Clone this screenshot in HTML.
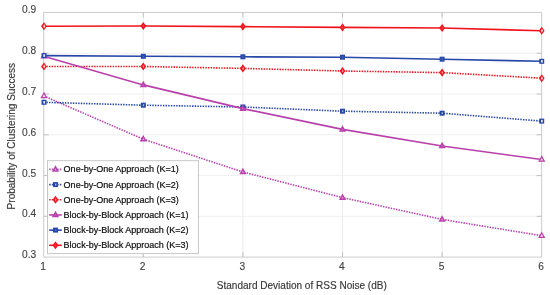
<!DOCTYPE html>
<html><head><meta charset="utf-8"><title>Probability of Clustering Success</title>
<style>html,body{margin:0;padding:0;background:#fff}svg{display:block}text{font-family:"Liberation Sans",Arial,sans-serif}</style></head><body>
<svg width="550" height="295" viewBox="0 0 550 295">
<rect width="550" height="295" fill="#fff"/>
<g stroke-width="0.9" fill="none">
<line x1="143.3" y1="12.5" x2="143.3" y2="257.1" stroke="#eaeaea"/>
<line x1="242.9" y1="12.5" x2="242.9" y2="257.1" stroke="#eaeaea"/>
<line x1="342.5" y1="12.5" x2="342.5" y2="257.1" stroke="#eaeaea"/>
<line x1="442.1" y1="12.5" x2="442.1" y2="257.1" stroke="#eaeaea"/>
<line x1="43.7" y1="53.27" x2="541.6" y2="53.27" stroke="#eeeeee"/>
<line x1="43.7" y1="94.03" x2="541.6" y2="94.03" stroke="#eeeeee"/>
<line x1="43.7" y1="134.80" x2="541.6" y2="134.80" stroke="#eeeeee"/>
<line x1="43.7" y1="175.57" x2="541.6" y2="175.57" stroke="#eeeeee"/>
<line x1="43.7" y1="216.33" x2="541.6" y2="216.33" stroke="#eeeeee"/>
</g>
<rect x="43.7" y="12.5" width="497.90000000000003" height="244.60000000000002" fill="none" stroke="#d0d0d0" stroke-width="1.1"/>
<g stroke="#b4b4b4" stroke-width="0.8">
<line x1="143.3" y1="257.1" x2="143.3" y2="252.10000000000002"/><line x1="143.3" y1="12.5" x2="143.3" y2="17.5"/>
<line x1="242.9" y1="257.1" x2="242.9" y2="252.10000000000002"/><line x1="242.9" y1="12.5" x2="242.9" y2="17.5"/>
<line x1="342.5" y1="257.1" x2="342.5" y2="252.10000000000002"/><line x1="342.5" y1="12.5" x2="342.5" y2="17.5"/>
<line x1="442.1" y1="257.1" x2="442.1" y2="252.10000000000002"/><line x1="442.1" y1="12.5" x2="442.1" y2="17.5"/>
<line x1="43.7" y1="53.27" x2="48.7" y2="53.27"/><line x1="541.6" y1="53.27" x2="536.6" y2="53.27"/>
<line x1="43.7" y1="94.03" x2="48.7" y2="94.03"/><line x1="541.6" y1="94.03" x2="536.6" y2="94.03"/>
<line x1="43.7" y1="134.80" x2="48.7" y2="134.80"/><line x1="541.6" y1="134.80" x2="536.6" y2="134.80"/>
<line x1="43.7" y1="175.57" x2="48.7" y2="175.57"/><line x1="541.6" y1="175.57" x2="536.6" y2="175.57"/>
<line x1="43.7" y1="216.33" x2="48.7" y2="216.33"/><line x1="541.6" y1="216.33" x2="536.6" y2="216.33"/>
</g>
<polyline points="43.7,95.9 143.3,139.2 242.9,172.0 342.5,197.6 442.1,219.4 541.6,235.7" fill="none" stroke="#b840ab" stroke-width="1.6" stroke-dasharray="1.45 1.2" stroke-linejoin="round"/>
<path d="M44.0 91.7L47.6 98.2L40.4 98.2Z" fill="#b840ab"/><path d="M44.0 94.3L45.5 97.0L42.5 97.0Z" fill="#f4e4f0"/>
<path d="M143.3 135.0L146.9 141.5L139.7 141.5Z" fill="#b840ab"/><path d="M143.3 138.0L144.4 140.0L142.2 140.0Z" fill="#e3a6da"/>
<path d="M242.9 167.8L246.5 174.3L239.3 174.3Z" fill="#b840ab"/><path d="M242.9 170.8L244.0 172.8L241.8 172.8Z" fill="#e3a6da"/>
<path d="M342.5 193.4L346.1 199.9L338.9 199.9Z" fill="#b840ab"/><path d="M342.5 196.4L343.6 198.4L341.4 198.4Z" fill="#e3a6da"/>
<path d="M442.1 215.2L445.7 221.7L438.5 221.7Z" fill="#b840ab"/><path d="M442.1 218.2L443.2 220.2L441.0 220.2Z" fill="#e3a6da"/>
<path d="M541.7 231.5L545.3 238.0L538.1 238.0Z" fill="#b840ab"/><path d="M541.7 234.1L543.2 236.8L540.2 236.8Z" fill="#f4e4f0"/>
<polyline points="43.7,102.3 143.3,105.2 242.9,107.0 342.5,111.2 442.1,113.2 541.6,121.1" fill="none" stroke="#2848a8" stroke-width="1.6" stroke-dasharray="1.45 1.2" stroke-linejoin="round"/>
<rect x="41.5" y="99.8" width="5" height="5" fill="#2848a8"/><rect x="43.32" y="101.08" width="1.76" height="2.43" fill="#e6eaf6"/>
<rect x="140.8" y="102.7" width="5" height="5" fill="#2848a8"/><rect x="142.85" y="104.30" width="1.30" height="1.80" fill="#aebbe2"/>
<rect x="240.4" y="104.5" width="5" height="5" fill="#2848a8"/><rect x="242.45" y="106.10" width="1.30" height="1.80" fill="#aebbe2"/>
<rect x="340.0" y="108.7" width="5" height="5" fill="#2848a8"/><rect x="342.05" y="110.30" width="1.30" height="1.80" fill="#aebbe2"/>
<rect x="439.6" y="110.7" width="5" height="5" fill="#2848a8"/><rect x="441.65" y="112.30" width="1.30" height="1.80" fill="#aebbe2"/>
<rect x="539.2" y="118.6" width="5" height="5" fill="#2848a8"/><rect x="541.02" y="119.88" width="1.76" height="2.43" fill="#e6eaf6"/>
<polyline points="43.7,66.5 143.3,66.5 242.9,68.4 342.5,71.0 442.1,72.6 541.6,78.2" fill="none" stroke="#f0141e" stroke-width="1.6" stroke-dasharray="1.45 1.2" stroke-linejoin="round"/>
<path d="M44.0 62.45L46.9 66.5L44.0 70.55L41.1 66.5Z" fill="#f0141e"/><path d="M44.2 64.5L45.3 66.5L44.2 68.5L43.1 66.5Z" fill="#fde0e2"/>
<path d="M143.3 62.45L146.2 66.5L143.3 70.55L140.4 66.5Z" fill="#f0141e"/><path d="M143.5 65.0L144.3 66.5L143.5 68.0L142.7 66.5Z" fill="#fbb0b4"/>
<path d="M242.9 64.35L245.8 68.4L242.9 72.45L240.0 68.4Z" fill="#f0141e"/><path d="M243.1 66.9L243.9 68.4L243.1 69.9L242.3 68.4Z" fill="#fbb0b4"/>
<path d="M342.5 66.95L345.4 71.0L342.5 75.05L339.6 71.0Z" fill="#f0141e"/><path d="M342.7 69.5L343.5 71.0L342.7 72.5L341.9 71.0Z" fill="#fbb0b4"/>
<path d="M442.1 68.55L445.0 72.6L442.1 76.65L439.2 72.6Z" fill="#f0141e"/><path d="M442.3 71.1L443.1 72.6L442.3 74.1L441.5 72.6Z" fill="#fbb0b4"/>
<path d="M541.7 74.15L544.6 78.2L541.7 82.25L538.8 78.2Z" fill="#f0141e"/><path d="M541.9 76.2L543.0 78.2L541.9 80.2L540.8 78.2Z" fill="#fde0e2"/>
<polyline points="43.7,56.3 143.3,84.9 242.9,108.6 342.5,129.4 442.1,146.0 541.6,159.5" fill="none" stroke="#b840ab" stroke-width="1.6" stroke-linejoin="round"/>
<path d="M44.0 52.1L47.6 58.6L40.4 58.6Z" fill="#b840ab"/><path d="M44.0 54.7L45.5 57.4L42.5 57.4Z" fill="#f4e4f0"/>
<path d="M143.3 80.7L146.9 87.2L139.7 87.2Z" fill="#b840ab"/><path d="M143.3 83.7L144.4 85.7L142.2 85.7Z" fill="#c865c0"/>
<path d="M242.9 104.4L246.5 110.9L239.3 110.9Z" fill="#b840ab"/><path d="M242.9 107.4L244.0 109.4L241.8 109.4Z" fill="#c865c0"/>
<path d="M342.5 125.2L346.1 131.7L338.9 131.7Z" fill="#b840ab"/><path d="M342.5 128.2L343.6 130.2L341.4 130.2Z" fill="#c865c0"/>
<path d="M442.1 141.8L445.7 148.3L438.5 148.3Z" fill="#b840ab"/><path d="M442.1 144.8L443.2 146.8L441.0 146.8Z" fill="#c865c0"/>
<path d="M541.7 155.3L545.3 161.8L538.1 161.8Z" fill="#b840ab"/><path d="M541.7 157.9L543.2 160.6L540.2 160.6Z" fill="#f4e4f0"/>
<polyline points="43.7,55.6 143.3,56.3 242.9,56.8 342.5,57.2 442.1,59.2 541.6,61.3" fill="none" stroke="#2848a8" stroke-width="1.6" stroke-linejoin="round"/>
<rect x="41.5" y="53.1" width="5" height="5" fill="#2848a8"/><rect x="43.32" y="54.38" width="1.76" height="2.43" fill="#e6eaf6"/>
<rect x="140.8" y="53.8" width="5" height="5" fill="#2848a8"/><rect x="142.85" y="55.40" width="1.30" height="1.80" fill="#4a68b8"/>
<rect x="240.4" y="54.3" width="5" height="5" fill="#2848a8"/><rect x="242.45" y="55.90" width="1.30" height="1.80" fill="#4a68b8"/>
<rect x="340.0" y="54.7" width="5" height="5" fill="#2848a8"/><rect x="342.05" y="56.30" width="1.30" height="1.80" fill="#4a68b8"/>
<rect x="439.6" y="56.7" width="5" height="5" fill="#2848a8"/><rect x="441.65" y="58.30" width="1.30" height="1.80" fill="#4a68b8"/>
<rect x="539.2" y="58.8" width="5" height="5" fill="#2848a8"/><rect x="541.02" y="60.08" width="1.76" height="2.43" fill="#e6eaf6"/>
<polyline points="43.7,26.2 143.3,26.0 242.9,26.6 342.5,27.4 442.1,28.0 541.6,30.8" fill="none" stroke="#f0141e" stroke-width="1.6" stroke-linejoin="round"/>
<path d="M44.0 22.15L46.9 26.2L44.0 30.25L41.1 26.2Z" fill="#f0141e"/><path d="M44.2 24.2L45.3 26.2L44.2 28.2L43.1 26.2Z" fill="#fde0e2"/>
<path d="M143.3 21.95L146.2 26.0L143.3 30.05L140.4 26.0Z" fill="#f0141e"/><path d="M143.5 24.5L144.3 26.0L143.5 27.5L142.7 26.0Z" fill="#f64852"/>
<path d="M242.9 22.55L245.8 26.6L242.9 30.65L240.0 26.6Z" fill="#f0141e"/><path d="M243.1 25.1L243.9 26.6L243.1 28.1L242.3 26.6Z" fill="#f64852"/>
<path d="M342.5 23.35L345.4 27.4L342.5 31.45L339.6 27.4Z" fill="#f0141e"/><path d="M342.7 25.9L343.5 27.4L342.7 28.9L341.9 27.4Z" fill="#f64852"/>
<path d="M442.1 23.95L445.0 28.0L442.1 32.05L439.2 28.0Z" fill="#f0141e"/><path d="M442.3 26.5L443.1 28.0L442.3 29.5L441.5 28.0Z" fill="#f64852"/>
<path d="M541.7 26.75L544.6 30.8L541.7 34.85L538.8 30.8Z" fill="#f0141e"/><path d="M541.9 28.8L543.0 30.8L541.9 32.8L540.8 30.8Z" fill="#fde0e2"/>
<g font-size="10.2" fill="#404040" stroke="#404040" stroke-width="0.12">
<text x="36.2" y="13.4" text-anchor="end">0.9</text>
<text x="36.2" y="54.2" text-anchor="end">0.8</text>
<text x="36.2" y="94.9" text-anchor="end">0.7</text>
<text x="36.2" y="135.7" text-anchor="end">0.6</text>
<text x="36.2" y="176.5" text-anchor="end">0.5</text>
<text x="36.2" y="217.2" text-anchor="end">0.4</text>
<text x="36.2" y="258.0" text-anchor="end">0.3</text>
<text x="43.1" y="269.9" text-anchor="middle">1</text>
<text x="142.7" y="269.9" text-anchor="middle">2</text>
<text x="242.3" y="269.9" text-anchor="middle">3</text>
<text x="341.9" y="269.9" text-anchor="middle">4</text>
<text x="441.5" y="269.9" text-anchor="middle">5</text>
<text x="541.0" y="269.9" text-anchor="middle">6</text>
</g>
<text x="301.8" y="288.7" font-size="10.3" fill="#363636" stroke="#363636" stroke-width="0.15" text-anchor="middle" textLength="170" lengthAdjust="spacingAndGlyphs">Standard Deviation of RSS Noise (dB)</text>
<text transform="translate(14.6 136.2) rotate(-90)" font-size="10.3" fill="#363636" stroke="#363636" stroke-width="0.15" text-anchor="middle" textLength="146.4" lengthAdjust="spacingAndGlyphs">Probability of Clustering Success</text>
<rect x="47.5" y="160.7" width="150.9" height="92.9" fill="#fff" stroke="#c2c2c2" stroke-width="0.9"/>
<line x1="49.2" y1="169.4" x2="61.8" y2="169.4" stroke="#b840ab" stroke-width="1.6" stroke-dasharray="1.45 1.2"/>
<path d="M55.5 165.2L59.1 171.7L51.9 171.7Z" fill="#b840ab"/><path d="M55.5 168.2L56.6 170.2L54.4 170.2Z" fill="#e3a6da"/>
<text x="63.6" y="172.3" font-size="9.8" fill="#0c0c0c" stroke="#0c0c0c" stroke-width="0.2" textLength="115.19999999999999" lengthAdjust="spacingAndGlyphs">One-by-One Approach (K=1)</text>
<line x1="49.2" y1="184.58" x2="61.8" y2="184.58" stroke="#2848a8" stroke-width="1.6" stroke-dasharray="1.45 1.2"/>
<rect x="53.0" y="182.1" width="5" height="5" fill="#2848a8"/><rect x="55.05" y="183.68" width="1.30" height="1.80" fill="#aebbe2"/>
<text x="63.6" y="187.5" font-size="9.8" fill="#0c0c0c" stroke="#0c0c0c" stroke-width="0.2" textLength="115.19999999999999" lengthAdjust="spacingAndGlyphs">One-by-One Approach (K=2)</text>
<line x1="49.2" y1="199.76" x2="61.8" y2="199.76" stroke="#f0141e" stroke-width="1.6" stroke-dasharray="1.45 1.2"/>
<path d="M55.5 195.71L58.4 199.8L55.5 203.81L52.6 199.8Z" fill="#f0141e"/><path d="M55.7 198.3L56.5 199.8L55.7 201.3L54.9 199.8Z" fill="#fbb0b4"/>
<text x="63.6" y="202.7" font-size="9.8" fill="#0c0c0c" stroke="#0c0c0c" stroke-width="0.2" textLength="115.19999999999999" lengthAdjust="spacingAndGlyphs">One-by-One Approach (K=3)</text>
<line x1="49.2" y1="214.94" x2="61.8" y2="214.94" stroke="#b840ab" stroke-width="1.6"/>
<path d="M55.5 210.7L59.1 217.2L51.9 217.2Z" fill="#b840ab"/><path d="M55.5 213.7L56.6 215.7L54.4 215.7Z" fill="#c865c0"/>
<text x="63.6" y="217.9" font-size="9.8" fill="#0c0c0c" stroke="#0c0c0c" stroke-width="0.2" textLength="125.0" lengthAdjust="spacingAndGlyphs">Block-by-Block Approach (K=1)</text>
<line x1="49.2" y1="230.12" x2="61.8" y2="230.12" stroke="#2848a8" stroke-width="1.6"/>
<rect x="53.0" y="227.6" width="5" height="5" fill="#2848a8"/><rect x="55.05" y="229.22" width="1.30" height="1.80" fill="#4a68b8"/>
<text x="63.6" y="233.1" font-size="9.8" fill="#0c0c0c" stroke="#0c0c0c" stroke-width="0.2" textLength="125.0" lengthAdjust="spacingAndGlyphs">Block-by-Block Approach (K=2)</text>
<line x1="49.2" y1="245.3" x2="61.8" y2="245.3" stroke="#f0141e" stroke-width="1.6"/>
<path d="M55.5 241.25L58.4 245.3L55.5 249.35L52.6 245.3Z" fill="#f0141e"/><path d="M55.7 243.8L56.5 245.3L55.7 246.8L54.9 245.3Z" fill="#f64852"/>
<text x="63.6" y="248.2" font-size="9.8" fill="#0c0c0c" stroke="#0c0c0c" stroke-width="0.2" textLength="125.0" lengthAdjust="spacingAndGlyphs">Block-by-Block Approach (K=3)</text>
</svg></body></html>
